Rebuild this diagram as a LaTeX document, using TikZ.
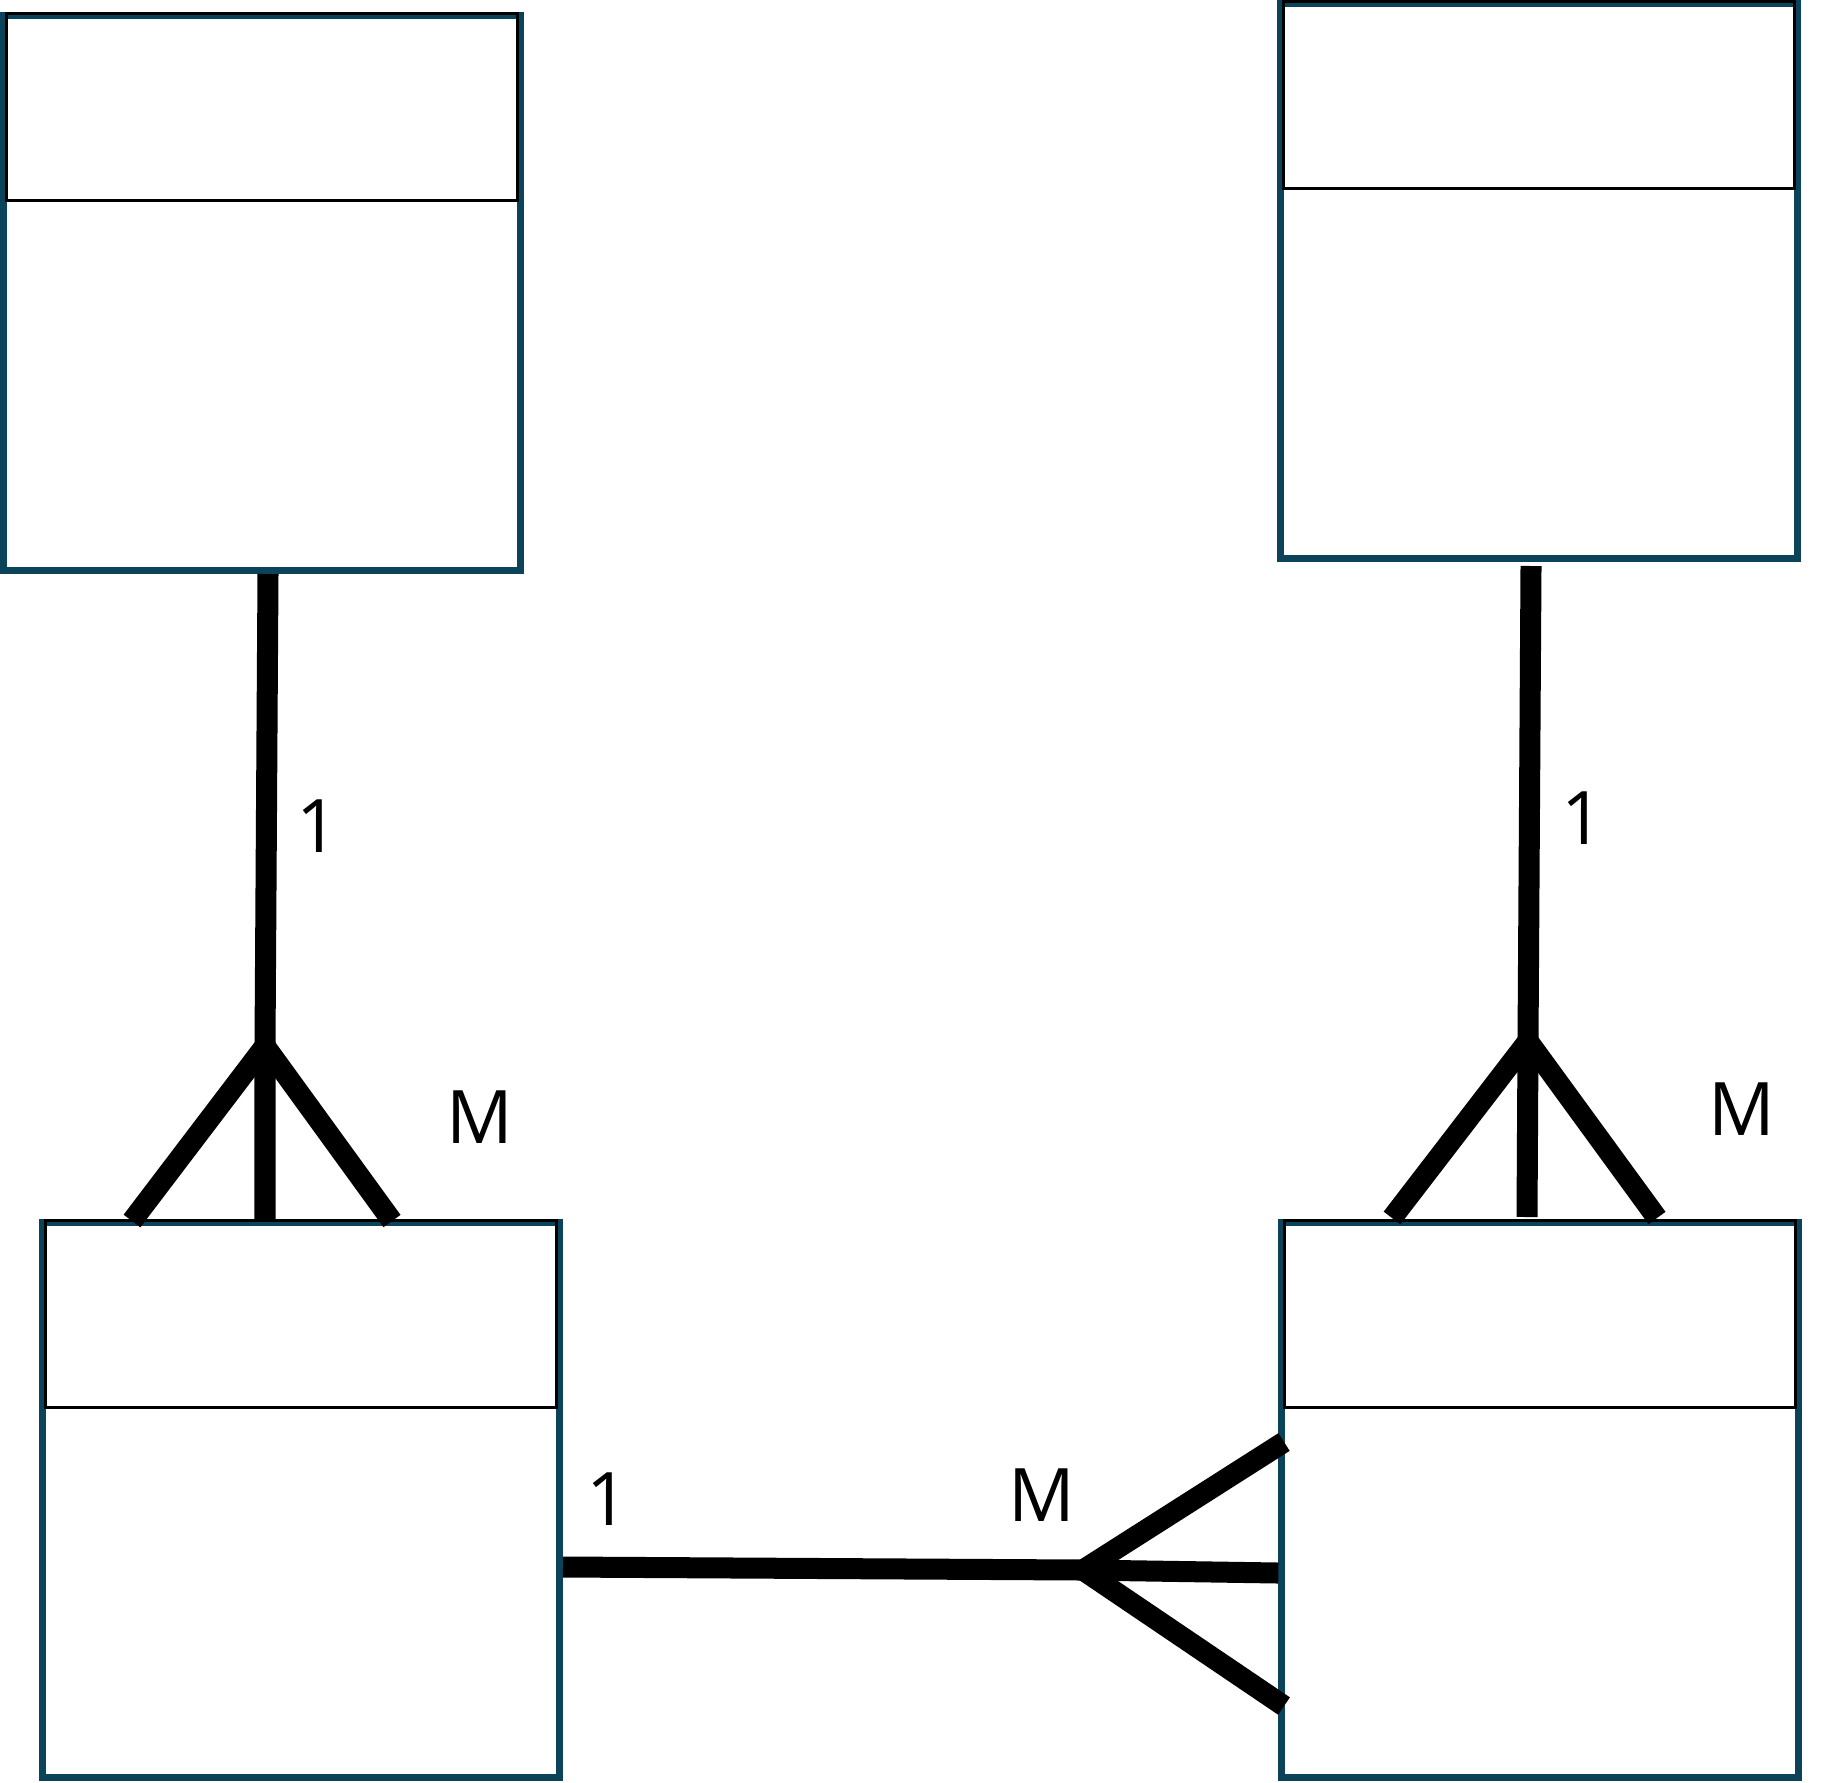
\documentclass[tikz,border=0pt]{standalone}
\usepackage{fontspec}
\setmainfont{Open Sans}
\definecolor{entityblue}{RGB}{11,67,91}
\begin{document}
\begin{tikzpicture}[x=0.01cm,y=-0.01cm,
	entity/.style={draw=entityblue,line width=0.07cm,minimum width=5.16cm,minimum height=5.54cm,inner sep=0},
	header/.style={draw=black,line width=0.03cm,minimum width=5.1cm,minimum height=1.87cm,inner sep=0,anchor=north},
	rel/.style={line width=0.21cm},
	card/.style={inner sep=0,font=\fontsize{21}{26}\selectfont}]
\useasboundingbox (0,0) rectangle (1825,1782);

% entities
\node[entity] (tl) at (262,293) {};
\node[entity] (tr) at (1539,281) {};
\node[entity] (bl) at (301,1500) {};
\node[entity] (br) at (1540,1500) {};
\node[header] (tlh) at (tl.north) {};
\node[header] (trh) at (tr.north) {};
\node[header] (blh) at (bl.north) {};
\node[header] (brh) at (br.north) {};

% left relation
\coordinate (tltop) at (268,574);
\coordinate (tlfoot) at (265,1046);
\coordinate (tlfootl) at (132,1221);
\coordinate (tlfootr) at (392,1221);
\draw[rel] (tltop) -- (tlfoot) -- (bl.north -| tlfoot);
\draw[rel] (tlfootl) -- (tlfoot) -- (tlfootr);

% right relation
\coordinate (trtop) at (1531,566);
\coordinate (trfoot) at (1528,1041);
\coordinate (trprong) at (1527,1217);
\coordinate (trfootl) at (1392,1218);
\coordinate (trfootr) at (1657,1218);
\draw[rel] (trtop) -- (trfoot) -- (trprong);
\draw[rel] (trfootl) -- (trfoot) -- (trfootr);

% bottom relation
\coordinate (blright) at (563,1567);
\coordinate (brfoot) at (1083,1570);
\coordinate (brfoott) at (1284,1442);
\coordinate (brfootb) at (1284,1706);
\draw[rel] (blright) -- (brfoot) -- (br.west |- 0,1573);
\draw[rel] (brfoott) -- (brfoot) -- (brfootb);

\draw	(318,826) node[card] (tlone) {1}
		(480,1117) node[card] (tlm) {M}
		(1583,818) node[card] (trone) {1}
		(1742,1109) node[card] (trm) {M}
		(608,1499) node[card] (blone) {1}
		(1042,1495) node[card] (brm) {M};

\end{tikzpicture}
\end{document}
